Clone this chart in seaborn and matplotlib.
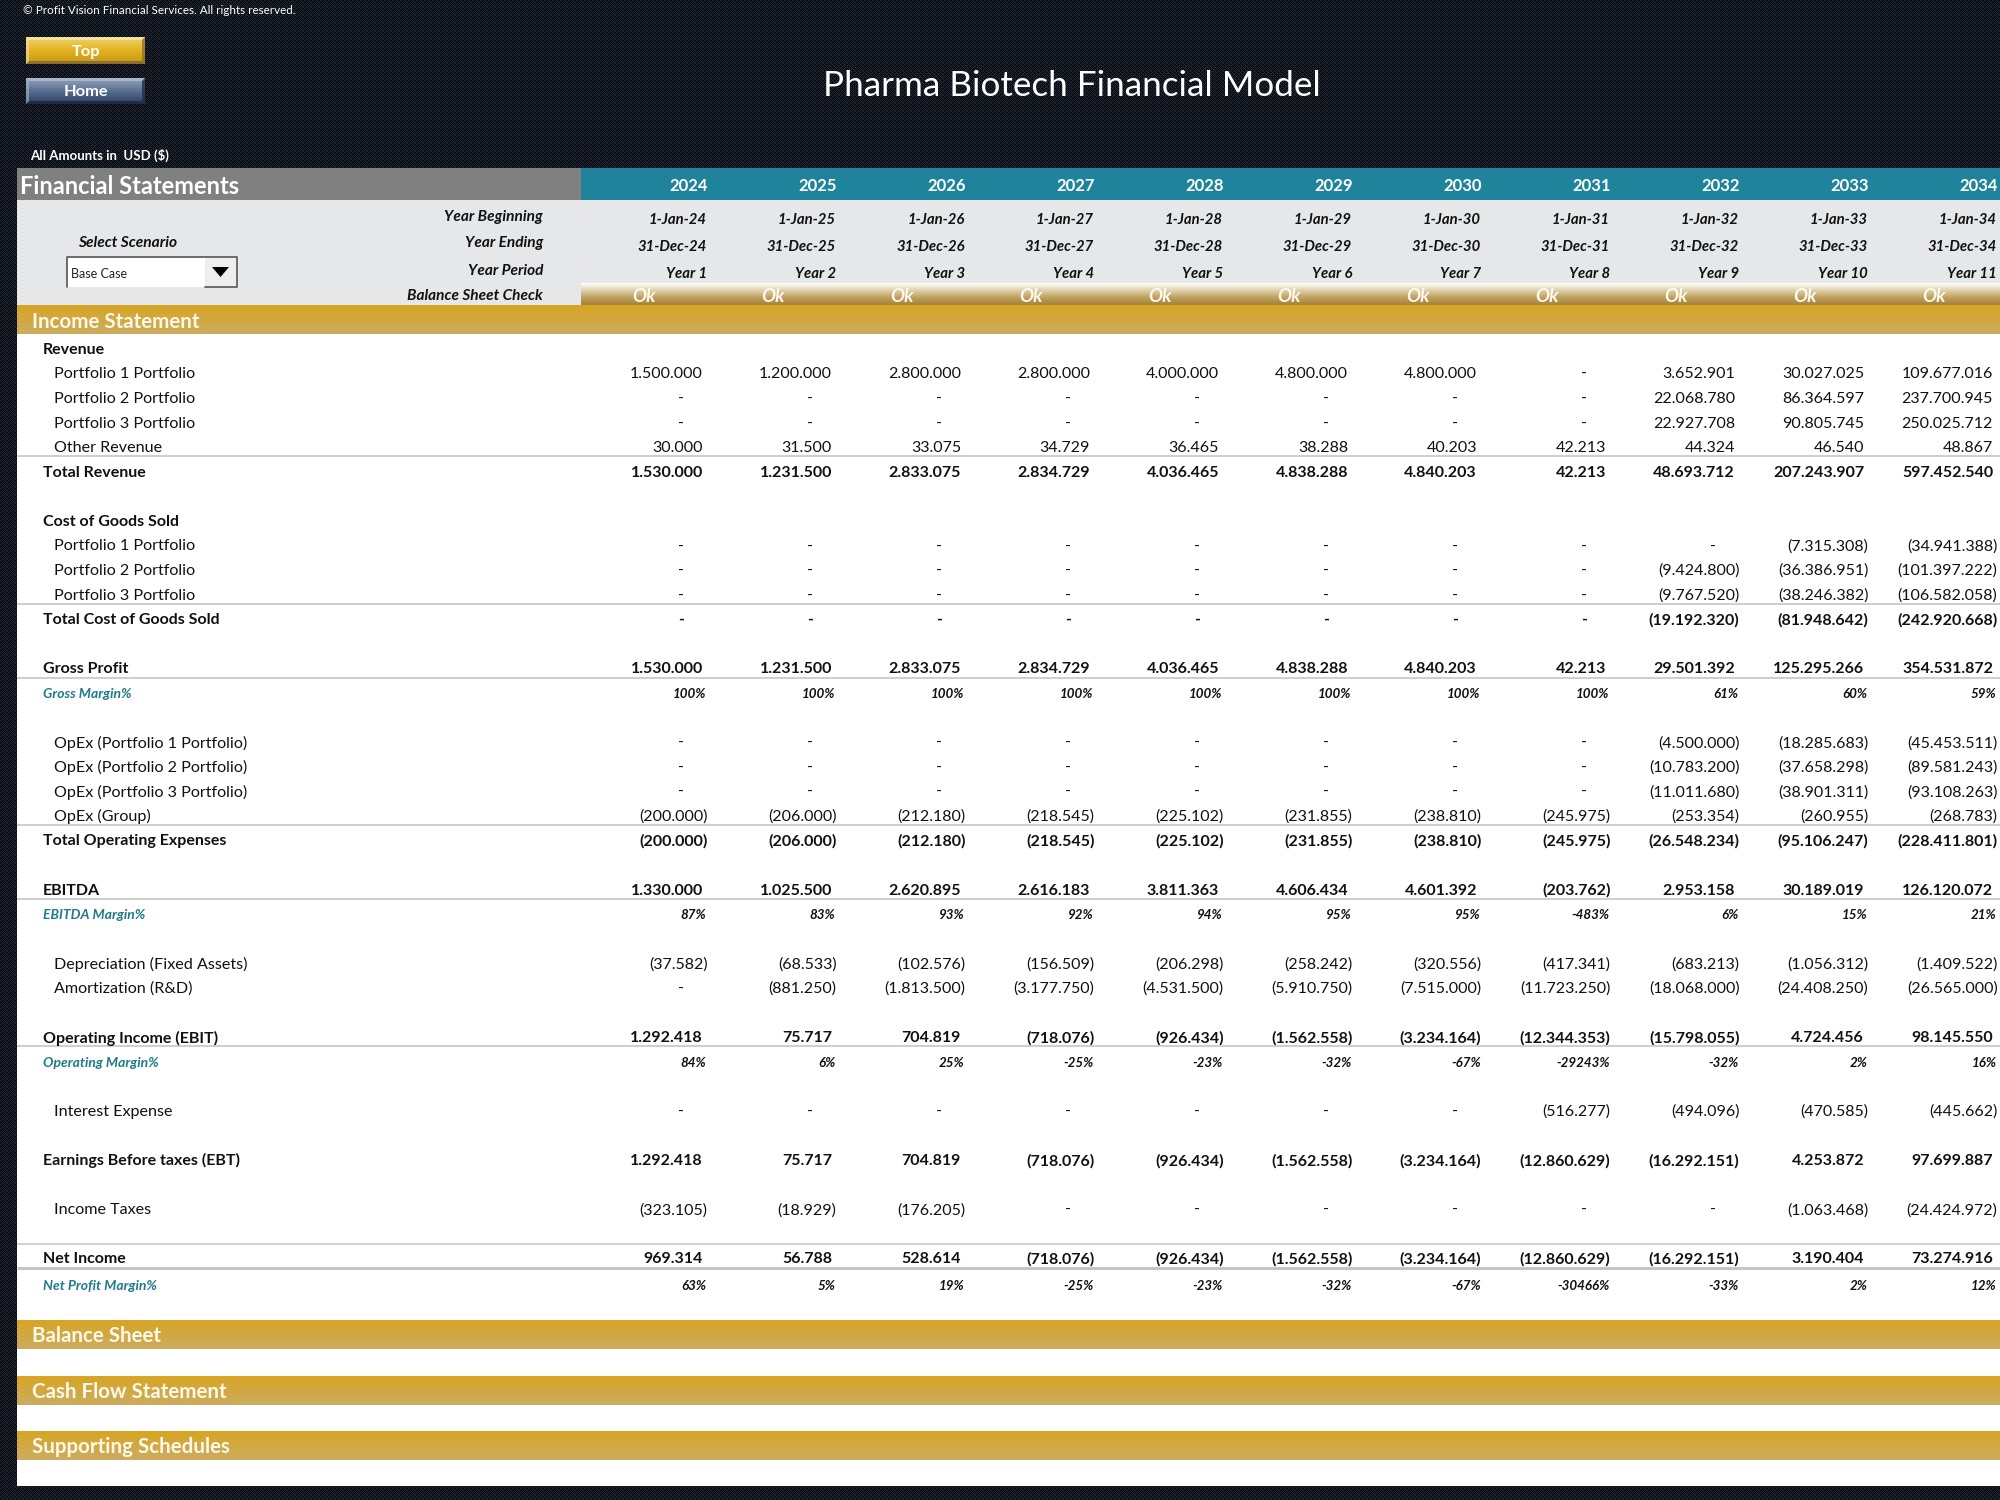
import numpy as np
import matplotlib
matplotlib.use('Agg')
import matplotlib.pyplot as plt
from matplotlib.colors import ListedColormap
from matplotlib.patches import Polygon, Rectangle
import seaborn as sns

# values as shown in the sheet, 0 prints as a dash
years = [2024, 2025, 2026, 2027, 2028, 2029, 2030, 2031, 2032, 2033, 2034]
year_begin = ['1-Jan-24', '1-Jan-25', '1-Jan-26', '1-Jan-27', '1-Jan-28', '1-Jan-29', '1-Jan-30', '1-Jan-31', '1-Jan-32', '1-Jan-33', '1-Jan-34']
year_end = ['31-Dec-24', '31-Dec-25', '31-Dec-26', '31-Dec-27', '31-Dec-28', '31-Dec-29', '31-Dec-30', '31-Dec-31', '31-Dec-32', '31-Dec-33', '31-Dec-34']
year_period = ['Year 1', 'Year 2', 'Year 3', 'Year 4', 'Year 5', 'Year 6', 'Year 7', 'Year 8', 'Year 9', 'Year 10', 'Year 11']

rev_p1 = [1500000, 1200000, 2800000, 2800000, 4000000, 4800000, 4800000, 0, 3652901, 30027025, 109677016]
rev_p2 = [0, 0, 0, 0, 0, 0, 0, 0, 22068780, 86364597, 237700945]
rev_p3 = [0, 0, 0, 0, 0, 0, 0, 0, 22927708, 90805745, 250025712]
rev_other = [30000, 31500, 33075, 34729, 36465, 38288, 40203, 42213, 44324, 46540, 48867]
rev_total = [1530000, 1231500, 2833075, 2834729, 4036465, 4838288, 4840203, 42213, 48693712, 207243907, 597452540]

cogs_p1 = [0, 0, 0, 0, 0, 0, 0, 0, 0, -7315308, -34941388]
cogs_p2 = [0, 0, 0, 0, 0, 0, 0, 0, -9424800, -36386951, -101397222]
cogs_p3 = [0, 0, 0, 0, 0, 0, 0, 0, -9767520, -38246382, -106582058]
cogs_total = [0, 0, 0, 0, 0, 0, 0, 0, -19192320, -81948642, -242920668]

gross_profit = [1530000, 1231500, 2833075, 2834729, 4036465, 4838288, 4840203, 42213, 29501392, 125295266, 354531872]
gross_margin = [100, 100, 100, 100, 100, 100, 100, 100, 61, 60, 59]

opex_p1 = [0, 0, 0, 0, 0, 0, 0, 0, -4500000, -18285683, -45453511]
opex_p2 = [0, 0, 0, 0, 0, 0, 0, 0, -10783200, -37658298, -89581243]
opex_p3 = [0, 0, 0, 0, 0, 0, 0, 0, -11011680, -38901311, -93108263]
opex_group = [-200000, -206000, -212180, -218545, -225102, -231855, -238810, -245975, -253354, -260955, -268783]
opex_total = [-200000, -206000, -212180, -218545, -225102, -231855, -238810, -245975, -26548234, -95106247, -228411801]

ebitda = [1330000, 1025500, 2620895, 2616183, 3811363, 4606434, 4601392, -203762, 2953158, 30189019, 126120072]
ebitda_margin = [87, 83, 93, 92, 94, 95, 95, -483, 6, 15, 21]
depreciation = [-37582, -68533, -102576, -156509, -206298, -258242, -320556, -417341, -683213, -1056312, -1409522]
amortization = [0, -881250, -1813500, -3177750, -4531500, -5910750, -7515000, -11723250, -18068000, -24408250, -26565000]
ebit = [1292418, 75717, 704819, -718076, -926434, -1562558, -3234164, -12344353, -15798055, 4724456, 98145550]
ebit_margin = [84, 6, 25, -25, -23, -32, -67, -29243, -32, 2, 16]
interest = [0, 0, 0, 0, 0, 0, 0, -516277, -494096, -470585, -445662]
ebt = [1292418, 75717, 704819, -718076, -926434, -1562558, -3234164, -12860629, -16292151, 4253872, 97699887]
taxes = [-323105, -18929, -176205, 0, 0, 0, 0, 0, 0, -1063468, -24424972]
net_income = [969314, 56788, 528614, -718076, -926434, -1562558, -3234164, -12860629, -16292151, 3190404, 73274916]
net_margin = [63, 5, 19, -25, -23, -32, -67, -30466, -33, 2, 12]

# (label, values, kind), None is an empty spacer row
rows = [
    ('Revenue', None, 'head'),
    ('Portfolio 1 Portfolio', rev_p1, 'item'),
    ('Portfolio 2 Portfolio', rev_p2, 'item'),
    ('Portfolio 3 Portfolio', rev_p3, 'item'),
    ('Other Revenue', rev_other, 'item'),
    ('Total Revenue', rev_total, 'total'),
    None,
    ('Cost of Goods Sold', None, 'head'),
    ('Portfolio 1 Portfolio', cogs_p1, 'item'),
    ('Portfolio 2 Portfolio', cogs_p2, 'item'),
    ('Portfolio 3 Portfolio', cogs_p3, 'item'),
    ('Total Cost of Goods Sold', cogs_total, 'total'),
    None,
    ('Gross Profit', gross_profit, 'total'),
    ('Gross Margin%', gross_margin, 'pct'),
    None,
    ('OpEx (Portfolio 1 Portfolio)', opex_p1, 'item'),
    ('OpEx (Portfolio 2 Portfolio)', opex_p2, 'item'),
    ('OpEx (Portfolio 3 Portfolio)', opex_p3, 'item'),
    ('OpEx (Group)', opex_group, 'item'),
    ('Total Operating Expenses', opex_total, 'total'),
    None,
    ('EBITDA', ebitda, 'total'),
    ('EBITDA Margin%', ebitda_margin, 'pct'),
    None,
    ('Depreciation (Fixed Assets)', depreciation, 'item'),
    ('Amortization (R&D)', amortization, 'item'),
    None,
    ('Operating Income (EBIT)', ebit, 'total'),
    ('Operating Margin%', ebit_margin, 'pct'),
    None,
    ('Interest Expense', interest, 'item'),
    None,
    ('Earnings Before taxes (EBT)', ebt, 'total'),
    None,
    ('Income Taxes', taxes, 'item'),
    None,
    ('Net Income', net_income, 'total'),
    ('Net Profit Margin%', net_margin, 'pct'),
]
rule_rows = [5, 11, 14, 20, 23, 29]


def fmt_value(v, kind):
    if kind == 'pct':
        return f'{v}%'
    if v == 0:
        return '-'
    s = f'{abs(v):,}'.replace(',', '.')
    return f'({s})' if v < 0 else s


def gradient(ax, x0, y0, x1, y1, stops):
    # vertical colour ramp, stops are 0-255 rgb
    pos = np.linspace(0, 1, len(stops))
    t = np.linspace(0, 1, 64)
    img = np.stack([np.interp(t, pos, [s[c] for s in stops]) for c in range(3)], axis=1)[:, None, :] / 255
    ax.imshow(img, extent=(x0, x1, y1, y0), aspect='auto', interpolation='bilinear', zorder=2)


def button(ax, x0, y0, x1, y1, stops, light, dark):
    # bevelled shape button
    gradient(ax, x0, y0, x1, y1, stops)
    b = 3
    ax.add_patch(Polygon([[x0, y0], [x1, y0], [x1 - b, y0 + b], [x0 + b, y0 + b]], color=light, lw=0, zorder=3))
    ax.add_patch(Polygon([[x0, y1], [x1, y1], [x1 - b, y1 - b], [x0 + b, y1 - b]], color=dark, lw=0, zorder=3))
    ax.add_patch(Polygon([[x0, y0], [x0 + b, y0 + b], [x0 + b, y1 - b], [x0, y1]], color=light, alpha=0.6, lw=0, zorder=3))
    ax.add_patch(Polygon([[x1, y0], [x1 - b, y0 + b], [x1 - b, y1 - b], [x1, y1]], color=dark, alpha=0.8, lw=0, zorder=3))


sns.set_theme(style='white')
plt.rcParams['font.family'] = ['Lato', 'DejaVu Sans']

W, H = 2000, 1500
fig = plt.figure(figsize=(20, 15), dpi=100)

# page background in pixel coordinates
page = fig.add_axes([0, 0, 1, 1], zorder=0)
yy, xx = np.mgrid[0:H, 0:W]
weave = (((xx + yy) % 4 == 0) | ((xx - yy) % 4 == 0)).astype(float)
tex = np.zeros((H, W, 3))
for c, (lo, hi) in enumerate([(10, 36), (13, 42), (20, 54)]):
    tex[:, :, c] = (lo + (hi - lo) * weave) / 255
page.imshow(tex, extent=(0, W, H, 0), aspect='auto', interpolation='nearest', zorder=1)
button(page, 26, 37, 145, 64, [(240, 210, 110), (228, 178, 30), (196, 150, 24)], '#f2e2a0', '#8a7030')
button(page, 26, 78, 145, 104, [(150, 165, 190), (90, 110, 145), (44, 62, 94)], '#a8b4c8', '#202c44')

page.add_patch(Rectangle((17, 168), 564, 32, color='#808080', zorder=2, lw=0))
page.add_patch(Rectangle((581, 168), W - 581, 32, color='#1f849b', zorder=2, lw=0))
page.add_patch(Rectangle((17, 200), W - 17, 105, color='#e6e7e9', zorder=2, lw=0))
page.add_patch(Rectangle((17, 334), W - 17, 1486 - 334, color='white', zorder=2, lw=0))
gradient(page, 581, 283, W, 305, [(255, 255, 255), (222, 208, 170), (190, 160, 92), (166, 130, 56)])
gold = [(216, 165, 34), (204, 172, 96)]
for band_top in [305, 1320, 1376, 1431]:
    gradient(page, 17, band_top, W, band_top + 29, gold)
page.set_xlim(0, W)
page.set_ylim(H, 0)
page.axis('off')

# the statement grid itself is a heatmap, one cell per value
first_col, col_w = 579, 129
first_row, row_h = 336.0, 24.58
text_dy = 1.5
annot = np.full((len(rows), len(years)), '', dtype=object)
for r, row in enumerate(rows):
    if row is None or row[1] is None:
        continue
    annot[r] = [fmt_value(v, row[2]) for v in row[1]]

grid_w, grid_h = col_w * len(years), row_h * len(rows)
grid = fig.add_axes([first_col / W, 1 - (first_row + grid_h) / H, grid_w / W, grid_h / H], zorder=1)
sns.heatmap(np.zeros(annot.shape), annot=annot, fmt='', cbar=False, cmap=ListedColormap(['white']),
            xticklabels=False, yticklabels=False, ax=grid, annot_kws={'fontsize': 11.5})
for t in grid.texts:
    col, r = int(t.get_position()[0]), int(t.get_position()[1])
    s = t.get_text()
    if not s:
        continue
    kind = rows[r][2]
    t.set_color('#111111')
    t.set_ha('right')
    # closing bracket hangs past the digits, the dash sits further in
    right = col + 1 - 5 / col_w
    if kind == 'pct':
        t.set_fontsize(9.6)
        t.set_fontweight('bold')
        t.set_fontstyle('italic')
        right = col + 1 - 1.5 / col_w
    elif s == '-':
        right = col + 1 - 24 / col_w
    elif s.startswith('('):
        right = col + 1 - 0.5 / col_w
    if kind == 'total':
        t.set_fontweight('bold')
    y = r + 0.5 + text_dy / row_h
    if r == len(rows) - 1:
        y += 2.5 / row_h
    t.set_position((right, y))

# labels, rules and headers on top
top = fig.add_axes([0, 0, 1, 1], zorder=2)
top.patch.set_alpha(0)
top.set_xlim(0, W)
top.set_ylim(H, 0)
top.axis('off')


def row_y(r):
    return first_row + row_h * (r + 0.5) + (2.5 if r == len(rows) - 1 else 0)


for r, row in enumerate(rows):
    if row is None:
        continue
    label, _, kind = row
    y = row_y(r) + text_dy
    if kind == 'item':
        top.text(54.5, y, label, fontsize=11.6, va='center', color='#111111')
    elif kind == 'pct':
        top.text(43, y, label, fontsize=10, va='center', color='#1f7a8c', fontweight='bold', fontstyle='italic')
    else:
        top.text(43, y, label, fontsize=11.5, va='center', color='#111111', fontweight='bold')

for r in rule_rows:
    top.plot([17, W], [row_y(r) - 14.7] * 2, color='#bfc1c3', lw=1.1, solid_capstyle='butt')
top.plot([17, W], [1243.7] * 2, color='#cfd0d2', lw=1.4, solid_capstyle='butt')
top.plot([17, W], [1268] * 2, color='#c4c5c7', lw=2.2, solid_capstyle='butt')

top.text(23, 10, '© Profit Vision Financial Services. All rights reserved.', fontsize=8.4, color='white', va='center')
top.text(85.5, 52, 'Top', fontsize=11.8, color='white', fontweight='bold', ha='center', va='center')
top.text(85.5, 92.5, 'Home', fontsize=11.8, color='white', fontweight='bold', ha='center', va='center')
top.text(1072, 86, 'Pharma Biotech Financial Model', fontsize=25.2, color='white', ha='center', va='center')
top.text(30.5, 155.5, 'All Amounts in  USD ($)', fontsize=9.5, color='white', fontweight='bold', va='center')
top.text(20, 186, 'Financial Statements', fontsize=17, color='white', fontweight='bold', va='center')

for lab, y in [('Year Beginning', 216.5), ('Year Ending', 243.5), ('Year Period', 271), ('Balance Sheet Check', 296.5)]:
    top.text(543, y, lab, fontsize=11.1, color='#111111', fontweight='bold', fontstyle='italic', ha='right', va='center')
top.text(78, 243, 'Select Scenario', fontsize=11.2, color='#111111', fontweight='bold', fontstyle='italic', va='center')

top.add_patch(Rectangle((67, 257), 170, 30, facecolor='white', edgecolor='none'))
top.add_patch(Rectangle((205, 258), 31, 28, facecolor='#eeeeee', edgecolor='none'))
top.plot([67, 67, 237, 237, 205], [287, 257, 257, 287, 287], color='#555555', lw=1.2)
top.add_patch(Polygon([[212, 267], [229, 267], [220.5, 277]], color='black', lw=0))
top.text(71, 274, 'Base Case', fontsize=9, color='#222222', va='center')

for i in range(len(years)):
    right = first_col + col_w * (i + 1)
    top.text(right, 186, str(years[i]), fontsize=12, color='white', fontweight='bold', ha='right', va='center')
    top.text(right - 1, 219.5, year_begin[i], fontsize=10.7, color='#111111', fontweight='bold', fontstyle='italic', ha='right', va='center')
    top.text(right - 1, 247, year_end[i], fontsize=10.7, color='#111111', fontweight='bold', fontstyle='italic', ha='right', va='center')
    top.text(right - 1, 274.5, year_period[i], fontsize=10.7, color='#111111', fontweight='bold', fontstyle='italic', ha='right', va='center')
    top.text(first_col + col_w * i + 53.5, 296.5, 'Ok', fontsize=13.5, color='#fdf9ec', fontweight='bold', fontstyle='italic', va='center')

for lab, y in [('Income Statement', 321.5), ('Balance Sheet', 1336.5), ('Cash Flow Statement', 1392), ('Supporting Schedules', 1447)]:
    top.text(32, y, lab, fontsize=14.8, color='#fdf8ea', fontweight='bold', va='center')

fig.savefig('out.png', dpi=100)
